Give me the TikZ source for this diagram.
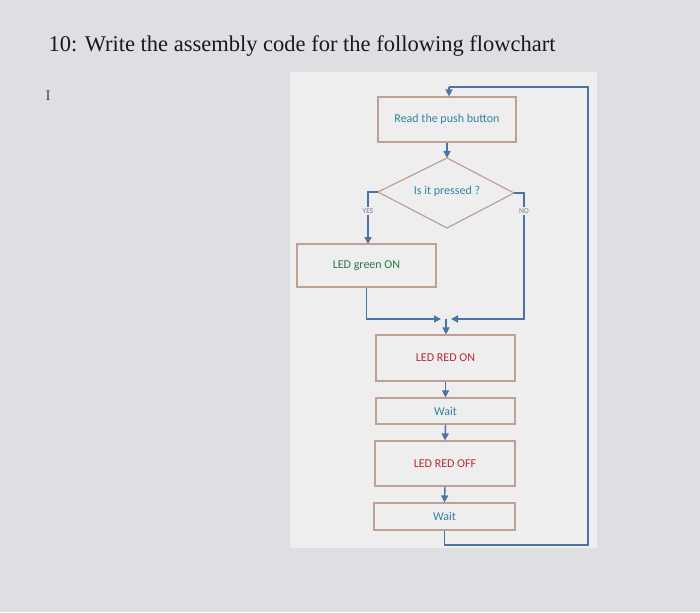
\documentclass[tikz,border=0pt]{standalone}
\usepackage{fontspec}
\setmainfont{Liberation Serif}
\newfontfamily\carl{Carlito}
\usetikzlibrary{arrows.meta}
\definecolor{bg}{RGB}{222,223,226}
\definecolor{panel}{RGB}{238,238,238}
\definecolor{ln}{RGB}{75,115,165}
\definecolor{bx}{RGB}{190,160,150}
\definecolor{tb}{RGB}{50,130,160}
\definecolor{tr}{RGB}{185,40,55}
\definecolor{tg}{RGB}{40,120,70}
\begin{document}
\begin{tikzpicture}[x=1pt,y=-1pt,
  box/.style={draw=bx,line width=1.2pt,fill=panel,inner sep=0pt,font=\carl\fontsize{12}{14}\selectfont},
  fl/.style={draw=ln,line width=1.4pt},
  ar/.style={fl,-{Triangle[length=7pt,width=7pt]}}]
\useasboundingbox (0,0) rectangle (700,612);
\fill[bg] (0,0) rectangle (700,612);
\fill[panel] (290,72) rectangle (597,548);
\node[anchor=west,font=\fontsize{22.5}{26}\selectfont,text=black!90] (title) at (45,46) {10: Write the assembly code for the following flowchart};
\node[font=\fontsize{15}{16}\selectfont,text=black!70] (cur) at (48,96) {I};
\node[box,text=tb,minimum width=138pt,minimum height=45pt] (read) at (447,119.5) {Read the push button};
\coordinate (dt) at (447,158); \coordinate (dl) at (378,192);
\coordinate (dr) at (514,193); \coordinate (db) at (447,228);
\filldraw[draw=bx,line width=1.2pt,fill=panel] (dt) -- (dr) -- (db) -- (dl) -- cycle;
\node[font=\carl\fontsize{12}{14}\selectfont,text=tb] (q) at (447,191) {Is it pressed ?};
\node[box,text=tg,minimum width=139pt,minimum height=43pt] (green) at (366.5,265.5) {LED green ON};
\node[box,text=tr,minimum width=139pt,minimum height=46pt] (ron) at (445.5,358) {LED RED ON};
\node[box,text=tb,minimum width=139pt,minimum height=26pt] (w1) at (445.5,411) {Wait};
\node[box,text=tr,minimum width=140pt,minimum height=45pt] (roff) at (445,463.5) {LED RED OFF};
\node[box,text=tb,minimum width=141pt,minimum height=27pt] (w2) at (444.5,516.5) {Wait};
\node[font=\carl\fontsize{7.5}{8}\selectfont,text=black!50,inner sep=1pt] (yes) at (368,211) {YES};
\node[font=\carl\fontsize{7.5}{8}\selectfont,text=black!50,inner sep=1pt] (no) at (524,211) {NO};
\coordinate (j) at (446,319);
\coordinate (tl) at (449,87);
\draw[ar] (tl) -- (read.north -| tl);
\draw[ar] (read.south) -- (dt);
\draw[fl] (dl) -- (368,192) -- (yes);
\draw[ar] (yes) -- (368,244);
\draw[fl] (dr) -- (524,193) -- (no);
\draw[ar] (no) -- (524,319) -- (451,319);
\draw[ar] (green.south) -- (366.5,319) -- (441,319);
\draw[ar] (j) -- (ron.north -| j);
\draw[ar] (ron.south) -- (w1.north);
\draw[ar] (w1.south) -- (roff.north);
\draw[ar] (roff.south) -- (w2.north);
\draw[fl] (w2.south) -- (444.5,545) -- (588,545) -- (588,87) -- (tl);
\end{tikzpicture}
\end{document}
